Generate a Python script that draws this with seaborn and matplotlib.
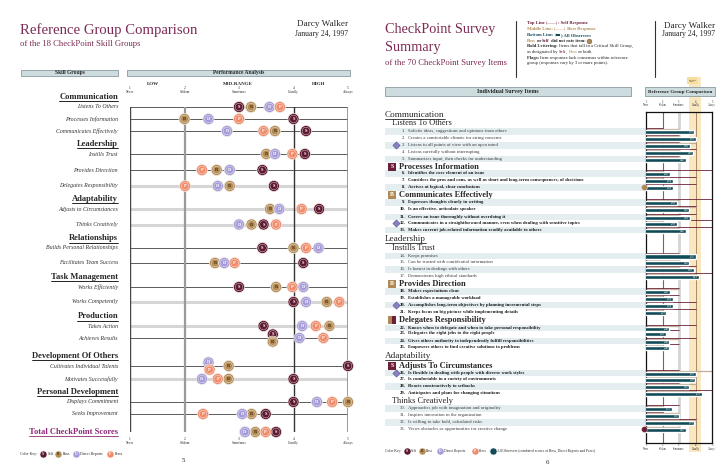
import numpy as np
import pandas as pd
import matplotlib
matplotlib.use("Agg")
import matplotlib.pyplot as plt
from matplotlib.patches import Rectangle
import seaborn as sns

sns.set_style("white")
plt.rcParams["font.family"] = ["Liberation Serif", "DejaVu Serif"]

# ---------------- data: left page (18 skill groups) ----------------
skill_groups = ["Communication", "Leadership", "Adaptability", "Relationships",
                "Task Management", "Production", "Development Of Others",
                "Personal Development"]
skills = ["Listens To Others", "Processes Information", "Communicates Effectively",
          "Instills Trust", "Provides Direction", "Delegates Responsibility",
          "Adjusts to Circumstances", "Thinks Creatively",
          "Builds Personal Relationships", "Facilitates Team Success",
          "Works Efficiently", "Works Competently",
          "Takes Action", "Achieves Results",
          "Cultivates Individual Talents", "Motivates Successfully",
          "Displays Commitment", "Seeks Improvement"]
total_label = "Total CheckPoint Scores"
# last value of each list = Total CheckPoint Scores
self_scores = [3.00, 4.00, 4.23, 4.21, 3.43, 3.64, 4.47, 3.45, 3.43, 4.18,
               3.00, 4.00, 3.45, 3.62, 5.00, 4.00, 4.00, 3.49, 3.68]
boss_scores = [3.22, 2.00, 3.66, 3.50, 2.59, 2.83, 3.57, 3.23, 4.00, 2.56,
               3.68, 4.61, 4.66, 3.62, 2.81, 2.81, 5.00, 3.23, 3.30]
direct_scores = [3.56, 2.44, 2.78, 3.66, 2.83, 2.61, 3.74, 3.00, 4.46, 2.73,
                 4.18, 4.23, 4.16, 4.11, 2.44, 2.32, 4.43, 3.06, 3.11]
peer_scores = [3.75, 3.00, 3.45, 3.98, 2.32, 2.01, 4.15, 3.68, 4.23, 2.92,
               3.98, 4.84, 4.41, 4.55, 2.46, 2.61, 4.71, 2.34, 3.49]
rater_names = ["Self", "Boss", "Direct Reports", "Peers"]
rater_letters = ["S", "B", "D", "P"]
scale_values = [1, 2, 3, 4, 5]
scale_words = ["Never", "Seldom", "Sometimes", "Usually", "Always"]

# ---------------- data: right page (survey items) ----------------
right_groups = ["Communication", "Leadership", "Adaptability"]
right_skills = ["Listens To Others", "Processes Information", "Communicates Effectively",
                "Instills Trust", "Provides Direction", "Delegates Responsibility",
                "Adjusts To Circumstances", "Thinks Creatively"]
right_critical = ["", "S", "B", "", "B", "BS", "S", ""]
items = [
    "Solicits ideas, suggestions and opinions from others",
    "Creates a comfortable climate for airing concerns",
    "Listens to all points of view with an open mind",
    "Listens carefully without interrupting",
    "Summarizes input, then checks for understanding",
    "Identifies the core element of an issue",
    "Considers the pros and cons, as well as short and long-term consequences, of decisions",
    "Arrives at logical, clear conclusions",
    "Expresses thoughts clearly in writing",
    "Is an effective, articulate speaker",
    "Covers an issue thoroughly without overdoing it",
    "Communicates in a straightforward manner, even when dealing with sensitive topics",
    "Makes current job-related information readily available to others",
    "Keeps promises",
    "Can be trusted with confidential information",
    "Is honest in dealings with others",
    "Demonstrates high ethical standards",
    "Makes expectations clear",
    "Establishes a manageable workload",
    "Accomplishes long-term objectives by planning incremental steps",
    "Keeps focus on big picture while implementing details",
    "Knows when to delegate and when to take personal responsibility",
    "Delegates the right jobs to the right people",
    "Gives others authority to independently fulfill responsibilities",
    "Empowers others to find creative solutions to problems",
    "Is flexible in dealing with people with diverse work styles",
    "Is comfortable in a variety of environments",
    "Reacts constructively to setbacks",
    "Anticipates and plans for changing situations",
    "Approaches job with imagination and originality",
    "Inspires innovation in the organization",
    "Is willing to take bold, calculated risks",
    "Views obstacles as opportunities for creative change",
]
item_skill = [0] * 5 + [1] * 3 + [2] * 5 + [3] * 4 + [4] * 4 + [5] * 4 + [6] * 4 + [7] * 4
all_observers = [3.93, 4.03, 3.64, 3.85, 3.42, 2.43, 2.64, 2.64, 2.88, 3.62, 3.64,
                 2.88, 3.42, 4.00, 3.62, 3.88, 4.19, 2.43, 2.64, 2.64, 2.23, 2.40,
                 2.20, 2.40, 2.40, 4.00, 3.99, 3.62, 4.39, 2.55, 3.00, 3.93, 3.40]
self_items = [2, 3, 3, 4, 3, 5, 4, 4, 5, 4, 4, 5, 5, 3, 3, 4, 5, 3, 3, 4, 4, 4,
              3, 4, 3, 3, 4, 3, 5, 3, 2, 4, np.nan]
boss_items = [3, 3, 4, 3, 3, 2, 2, np.nan, 3, 4, 3, 2, 3, 4, 3, 3, 4, 3, 2, 1, 2, 3,
              2, 3, 2, 5, 4, 4, 4, 2, 3, 4, 3]
flag_items = [3, 12, 20, 26]

# ---------------- layout / style ----------------
W, H = 728, 471
left_header_y = [97, 144, 199, 238.5, 277, 316.5, 356, 392]
left_row_y = [107, 119, 131, 154, 170, 186, 209, 224.5, 248, 263, 287, 302,
              326, 338, 366, 379, 402, 414]
total_y = 432
light_rows = [5, 6, 7, 11, 12, 15]
right_group_y = [115, 239, 356]
right_skill_y = [123, 166.7, 195, 247.7, 283.7, 320, 365.7, 401]
item_y = [131.3, 138.3, 145.3, 151.7, 158.7, 173.3, 180.3, 187.3, 202.3, 209.3,
          216.7, 223, 230, 255.7, 262.3, 269.3, 276.3, 291.3, 298, 305, 311.7,
          327.7, 333.3, 340.7, 347.3, 373, 379.3, 386.3, 393.3, 408.3, 415.3,
          422.3, 429.3]
rater_colors = ["#5e1a30", "#b48c56", "#a59bd8", "#ee8c6c"]
letter_colors = ["white", "#4a2e10", "white", "white"]
MAROON, TAN, TEAL = "#6b1f38", "#b08a55", "#124b58"
TITLE = "#7d2c55"
HEAD_FC, HEAD_EC = "#cddcde", "#8a9a9e"

fig = plt.figure(figsize=(W / 100, H / 100), dpi=100)
canvas = fig.add_axes([0, 0, 1, 1], zorder=0)
canvas.set_xlim(0, W)
canvas.set_ylim(H, 0)
canvas.axis("off")
renderer = fig.canvas.get_renderer()


def box(x0, y0, x1, y1):
    return [x0 / W, 1 - y1 / H, (x1 - x0) / W, (y1 - y0) / H]


def txt(x, y, s, **kw):
    kw.setdefault("va", "center")
    return canvas.text(x, y, s, **kw)


def underline(t, color="black", lw=0.6, dy=0.6):
    bb = t.get_window_extent(renderer=renderer)
    inv = canvas.transData.inverted()
    (x0, ybot), (x1, _) = inv.transform([(bb.x0, bb.y0), (bb.x1, bb.y1)])
    canvas.plot([x0, x1], [ybot + dy, ybot + dy], color=color, lw=lw)


def chain(x, y, parts, size):
    inv = canvas.transData.inverted()
    for s, c, wgt in parts:
        t = txt(x, y, s, color=c, fontweight=wgt, fontsize=size)
        bb = t.get_window_extent(renderer=renderer)
        x = inv.transform((bb.x1, 0))[0]
    return x


def header_bar(x0, y0, x1, y1, label, size=4):
    canvas.add_patch(Rectangle((x0, y0), x1 - x0, y1 - y0, fc=HEAD_FC, ec=HEAD_EC, lw=0.6))
    txt((x0 + x1) / 2, (y0 + y1) / 2, label, ha="center", fontsize=size, fontweight="bold")


def key_dot(x, y, color, letter, lcolor):
    canvas.scatter([x], [y], s=26, color=color, edgecolor="white", lw=0.4, zorder=3)
    txt(x, y, letter, ha="center", fontsize=2.6, color=lcolor, fontweight="bold", zorder=4)


# ================= LEFT PAGE =================
txt(20, 30, "Reference Group Comparison", fontsize=10.6, color=TITLE)
txt(20, 44.5, "of the 18 CheckPoint Skill Groups", fontsize=6.2, color=TITLE)
txt(348, 24, "Darcy Walker", ha="right", fontsize=6.6)
txt(348, 33.5, "January 24, 1997", ha="right", fontsize=5.6)
header_bar(21, 69.5, 118, 75.5, "Skill Groups")
header_bar(127, 69.5, 350, 75.5, "Performance Analysis")
for s, x in zip(["LOW", "MID-RANGE", "HIGH"], [153, 238, 319]):
    txt(x, 84, s, ha="center", fontsize=3.6, fontweight="bold")

axL = fig.add_axes(box(130, 107, 348, 432), zorder=2)
axL.set_facecolor("none")
for i, y in enumerate(left_row_y):
    if i in light_rows:
        axL.axhline(y, color="#d6d6d6", lw=2.2, zorder=1)
    else:
        axL.axhline(y, color="#5a5a5a", lw=0.7, zorder=1)
axL.axvline(1, color="#444444", lw=1.0, zorder=1)
axL.axvline(2, color="#9a9a9a", lw=1.6, zorder=1)
axL.axvline(4, color="#333333", lw=1.0, zorder=1)
axL.axvline(5, color="#8a8a8a", lw=1.2, zorder=1)

rows_y = left_row_y + [total_y]
records = []
for r, scores in zip(rater_names, [self_scores, boss_scores, direct_scores, peer_scores]):
    for i, v in enumerate(scores):
        records.append({"rater": r, "score": v, "row": i, "y": rows_y[i]})
dots = pd.DataFrame(records)
# nudge dots that fall on the same spot of a row
for _, g in dots.groupby("row"):
    idx = g.sort_values("score", kind="stable").index.tolist()
    for a, b in zip(idx[:-1], idx[1:]):
        if abs(dots.at[a, "score"] - dots.at[b, "score"]) < 0.06:
            dots.at[a, "y"] -= 3.6
            dots.at[b, "y"] += 3.6

sns.scatterplot(data=dots, x="score", y="y", hue="rater", hue_order=rater_names,
                palette=rater_colors, s=64, edgecolor="#f4eee8", linewidth=0.5,
                legend=False, ax=axL, zorder=5, clip_on=False)
axL.scatter(dots["score"], dots["y"], s=30, facecolors="none", edgecolors="white",
            linewidths=0.35, alpha=0.75, zorder=6, clip_on=False)
for _, r in dots.iterrows():
    k = rater_names.index(r["rater"])
    axL.text(r["score"], r["y"], rater_letters[k], fontsize=3.2, ha="center", va="center",
             color=letter_colors[k], fontweight="bold", zorder=7, clip_on=False)
axL.set_xlim(1, 5)
axL.set_ylim(432, 107)
axL.set_xticks([])
axL.set_yticks([])
axL.set_xlabel("")
axL.set_ylabel("")
for sp in axL.spines.values():
    sp.set_visible(False)
for v, w in zip(scale_values, scale_words):
    for y0 in (88, 439):
        axL.text(v, y0, str(v), ha="center", va="center", fontsize=2.6, clip_on=False)
        axL.text(v, y0 + 3.6, w, ha="center", va="center", fontsize=2.4, clip_on=False)

for name, y in zip(skill_groups, left_header_y):
    t = txt(118, y, name, ha="right", fontsize=6.1, fontweight="bold")
    underline(t, lw=0.6, dy=0.4)
for name, y in zip(skills, left_row_y):
    txt(118, y, name, ha="right", fontsize=4.2, style="italic", color="#333333")
t = txt(118, total_y, total_label, ha="right", fontsize=6.1, fontweight="bold", color="#8e2a78")
underline(t, color="#8e2a78", lw=0.6, dy=0.4)

txt(20, 454, "Color Key:", fontsize=2.8)
for (x, lx), name, c, l, lc in zip([(43, 47.5), (58, 62.5), (76, 80.5), (110, 114.5)],
                                   rater_names, rater_colors, rater_letters, letter_colors):
    key_dot(x, 454, c, l, lc)
    txt(lx, 454, name, fontsize=2.8)
txt(183, 460, "5", ha="center", fontsize=5)

# ================= RIGHT PAGE =================
txt(385, 30, "CheckPoint Survey", fontsize=10.3, color=TITLE)
txt(385, 47.5, "Summary", fontsize=10.3, color=TITLE)
txt(385, 63, "of the 70 CheckPoint Survey Items", fontsize=6.2, color=TITLE)
canvas.plot([516, 516], [21, 77], color="#333333", lw=0.8)
canvas.plot([655, 655], [21, 77], color="#333333", lw=0.8)
lsz = 3.3
chain(527, 23, [("Top Line ", MAROON, "bold"), ("(——)", MAROON, "normal"),
                (": Self Response", MAROON, "bold")], lsz)
chain(527, 29, [("Middle Line: ", TAN, "bold"), ("(——)", TAN, "normal"),
                (" Boss Response", TAN, "bold")], lsz)
xe = chain(527, 35, [("Bottom Line: ", TEAL, "bold"), ("(", TEAL, "normal")], lsz)
canvas.add_patch(Rectangle((xe + 0.3, 33.6), 4, 2.8, fc=TEAL, ec="none"))
chain(xe + 4.6, 35, [(") All Observers", TEAL, "bold")], lsz)
xe = chain(527, 40.5, [("Boss", TAN, "bold"), (" or ", "#222222", "bold"),
                       ("Self", MAROON, "bold"), (" did not rate item: ", "#222222", "bold")], lsz)
canvas.scatter([xe + 2.5], [40.5], s=12, color=TAN, edgecolor="#6b5030", lw=0.3)
chain(527, 46, [("Bold Lettering: ", "#222222", "bold"),
                ("Items that fall in a Critical Skill Group,", "#222222", "normal")], lsz)
chain(527, 52, [("as designated by ", "#222222", "normal"), ("Self", MAROON, "normal"),
                (", ", "#222222", "normal"), ("Boss", TAN, "normal"),
                (" or both.", "#222222", "normal")], lsz)
chain(527, 57.5, [("Flags: ", "#222222", "bold"),
                  ("Item responses lack consensus within reference", "#222222", "normal")], lsz)
txt(527, 63, "group (responses vary by 3 or more points).", fontsize=lsz, color="#222222")
txt(715, 26, "Darcy Walker", ha="right", fontsize=6.6)
txt(715, 34.5, "January 24, 1997", ha="right", fontsize=5.6)

# yellow reference band (behind the bar chart)
canvas.add_patch(Rectangle((688.5, 77), 12, 375, fc="#f8e7bf", ec="none", zorder=0))
canvas.add_patch(Rectangle((687, 77), 11, 7, fc="#f6df9e", ec="none", zorder=0.5))
txt(692.5, 80.5, "Reference\nScore", ha="center", fontsize=1.4, linespacing=0.9)
header_bar(385, 87, 631, 96, "Individual Survey Items", size=4.3)
header_bar(645, 87, 715, 96, "Reference Group Comparison", size=3.6)

for name, y in zip(right_groups, right_group_y):
    t = txt(385, y, name, fontsize=6.6)
    underline(t, lw=0.5, dy=0.3)
for name, y, crit in zip(right_skills, right_skill_y, right_critical):
    if crit == "":
        txt(392, y, name, fontsize=6.0)
        continue
    for j, c in enumerate(crit):
        w = 8 / len(crit)
        canvas.add_patch(Rectangle((388 + j * w, y - 4.2), w, 8.4,
                                   fc=MAROON if c == "S" else TAN, ec="none"))
    txt(392, y, crit[0] if len(crit) == 1 else "", ha="center", fontsize=4.2,
        color="white", fontweight="bold")
    txt(399, y, name, fontsize=6.0, fontweight="bold")

for n, (label, y, sk) in enumerate(zip(items, item_y, item_skill), start=1):
    first = item_skill.index(sk)
    if (n - 1 - first) % 2 == 0:
        canvas.add_patch(Rectangle((385, y - 3.2), 261, 6.4, fc="#e4edf0", ec="none", zorder=0))
    bold = right_critical[sk] != ""
    wgt = "bold" if bold else "normal"
    col = "#1a1a1a" if bold else "#3c3c3c"
    txt(405.5, y, f"{n}.", ha="right", fontsize=3.4, fontweight=wgt, color=col)
    txt(407.5, y, label, fontsize=3.4, fontweight=wgt, color=col)
    if n in flag_items:
        canvas.scatter([396], [y - 0.5], marker="D", s=14, color="#8a80c6",
                       edgecolor="#3d3a70", lw=0.3, zorder=3)

axR = fig.add_axes(box(646, 112, 712, 443), zorder=2)
axR.set_facecolor("none")
axR.axvline(2, color="#6a6a6a", lw=0.8, zorder=1)
axR.axvline(3, color="#d4d4d4", lw=2.0, zorder=1)
axR.axvline(4, color="#9c7a58", lw=0.6, zorder=1)
yy = np.array(item_y)
axR.barh(yy + 0.9, all_observers, height=4.2, left=0, color=TEAL, zorder=4)
sv = np.array(self_items, dtype=float)
bv = np.array(boss_items, dtype=float)
ok = ~np.isnan(sv)
axR.hlines(yy[ok] - 3.0, 1, sv[ok], color=MAROON, lw=0.6, zorder=3)
ok = ~np.isnan(bv)
axR.hlines(yy[ok] - 1.9, 1, bv[ok], color="#bfae98", lw=0.9, zorder=2)
for v, y in zip(all_observers, item_y):
    axR.text(v - 0.05, y + 1.0, f"{v:.2f}", ha="right", va="center", fontsize=2.0,
             color="white", zorder=5)
for n in range(len(items)):
    if np.isnan(bv[n]) or np.isnan(sv[n]):
        c = TAN if np.isnan(bv[n]) else MAROON
        axR.scatter([0.86], [item_y[n]], s=18, color=c, edgecolor="#f0e0d0", lw=0.3,
                    zorder=5, clip_on=False)
axR.set_xlim(1, 5)
axR.set_ylim(443, 112)
axR.set_xticks([])
axR.set_yticks([])
for sp in axR.spines.values():
    sp.set_color("#111111")
    sp.set_linewidth(0.9)
for v, w in zip(scale_values, scale_words):
    for y0 in (102, 445.5):
        axR.text(v, y0, str(v), ha="center", va="center", fontsize=2.0, clip_on=False)
        axR.text(v, y0 + 3.2, w, ha="center", va="center", fontsize=1.8, clip_on=False)

txt(385, 451, "Color Key:", fontsize=2.6)
for (x, lx), name, c, l, lc in zip([(407, 411), (422, 426), (440, 444), (475, 479)],
                                   rater_names, rater_colors, rater_letters, letter_colors):
    key_dot(x, 451, c, l, lc)
    txt(lx, 451, name, fontsize=2.6)
key_dot(493, 451, TEAL, "", "white")
txt(497, 451, "All Observers (combined scores of Boss, Direct Reports and Peers)", fontsize=2.6)
txt(547, 462, "6", ha="center", fontsize=5)

fig.savefig("out.png", dpi=100)
